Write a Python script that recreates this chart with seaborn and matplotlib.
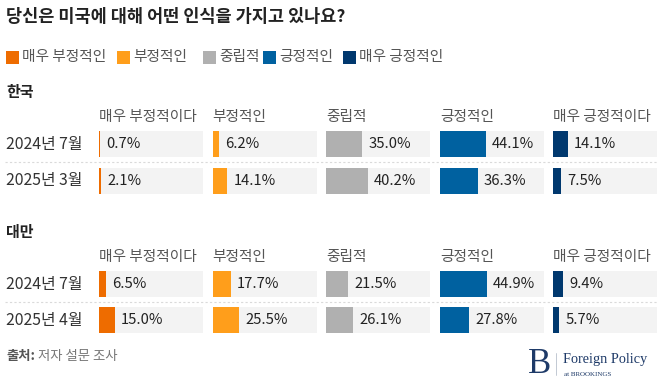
import matplotlib
matplotlib.use("Agg")
import matplotlib.pyplot as plt
import seaborn as sns
import pandas as pd
from matplotlib.patches import Rectangle
from matplotlib.lines import Line2D

# ---------------- data ----------------
title = "당신은 미국에 대해 어떤 인식을 가지고 있나요?"
legend_labels = ["매우 부정적인", "부정적인", "중립적", "긍정적인", "매우 긍정적인"]
column_labels = ["매우 부정적이다", "부정적인", "중립적", "긍정적인", "매우 긍정적이다"]
colors = ["#EE6C00", "#FF9E1B", "#B0B0B0", "#0061A0", "#00386E"]

panel_names = ["한국", "대만"]
korea_rows = ["2024년 7월", "2025년 3월"]
korea_very_neg = [0.7, 2.1]
korea_neg = [6.2, 14.1]
korea_neutral = [35.0, 40.2]
korea_pos = [44.1, 36.3]
korea_very_pos = [14.1, 7.5]

taiwan_rows = ["2024년 7월", "2025년 4월"]
taiwan_very_neg = [6.5, 15.0]
taiwan_neg = [17.7, 25.5]
taiwan_neutral = [21.5, 26.1]
taiwan_pos = [44.9, 27.8]
taiwan_very_pos = [9.4, 5.7]

source_label = "출처:"
source_text = "저자 설문 조사"

# ---------------- style ----------------
sns.set_theme(style="white")
plt.rcParams["font.family"] = ["Noto Sans CJK KR", "DejaVu Sans"]

W, H = 670, 386
fig = plt.figure(figsize=(W / 100, H / 100), dpi=100)
fig.patch.set_facecolor("white")


def fx(x):
    return x / W


def fy(y):
    return 1 - y / H


# title
fig.text(fx(6), fy(17), title, fontsize=12.6, fontweight="bold", color="#222222",
         ha="left", va="center")

# legend
leg_sq_x = [6, 117, 203, 263, 343]
for lx, lab, c in zip(leg_sq_x, legend_labels, colors):
    fig.patches.append(Rectangle((fx(lx), fy(63.5)), 13 / W, 13 / H, transform=fig.transFigure,
                                 facecolor=c, edgecolor="none"))
    fig.text(fx(lx + 16), fy(57), lab, fontsize=10.6, color="#555555", ha="left", va="center")

col_x = [99, 212.5, 326, 440, 553]
box_w = 104

panels = [
    dict(name=panel_names[0], rows=korea_rows,
         series=[korea_very_neg, korea_neg, korea_neutral, korea_pos, korea_very_pos],
         name_y=92, head_y=117, ax_top=125.5, ax_bot=199.5, sep_y=162.5),
    dict(name=panel_names[1], rows=taiwan_rows,
         series=[taiwan_very_neg, taiwan_neg, taiwan_neutral, taiwan_pos, taiwan_very_pos],
         name_y=232, head_y=257, ax_top=266, ax_bot=338, sep_y=302),
]

for p in panels:
    fig.text(fx(6), fy(p["name_y"]), p["name"], fontsize=10.8, fontweight="bold",
             color="#222222", ha="left", va="center")
    # separator
    fig.add_artist(Line2D([fx(5), fx(657)], [fy(p["sep_y"])] * 2, transform=fig.transFigure,
                          color="#DADADA", lw=0.8, linestyle=(0, (2, 2))))
    # row labels
    pitch = (p["ax_bot"] - p["ax_top"]) / 2
    for i, r in enumerate(p["rows"]):
        yc = p["ax_top"] + pitch * (i + 0.5)
        fig.text(fx(6.5), fy(yc), r, fontsize=11.4, color="#333333", ha="left", va="center")
    for j in range(5):
        fig.text(fx(col_x[j]), fy(p["head_y"]), column_labels[j], fontsize=10.6,
                 color="#555555", ha="left", va="center")
        ax = fig.add_axes([fx(col_x[j]), fy(p["ax_bot"]), box_w / W,
                           (p["ax_bot"] - p["ax_top"]) / H])
        df = pd.DataFrame({"row": p["rows"], "value": p["series"][j],
                           "full": [100.0] * len(p["rows"])})
        sns.barplot(data=df, x="full", y="row", orient="h", color="#F3F3F3",
                    width=0.71, ax=ax, saturation=1, linewidth=0)
        sns.barplot(data=df, x="value", y="row", orient="h", color=colors[j],
                    width=0.71, ax=ax, saturation=1, linewidth=0)
        for i, v in enumerate(p["series"][j]):
            ax.annotate(f"{v:.1f}%", xy=(v, i), xytext=(4.5, 0), textcoords="offset points",
                        fontsize=10.6, color="#222222", ha="left", va="center")
        ax.set_xlim(0, 100)
        ax.set_ylim(1.5, -0.5)
        ax.axis("off")

# footer
fig.text(fx(6), fy(356), source_label, fontsize=9.6, fontweight="bold", color="#555555",
         ha="left", va="center")
fig.text(fx(38), fy(356), source_text, fontsize=9.6, color="#777777", ha="left", va="center")

# logo
navy = "#1E3A68"
fig.text(fx(528), fy(364.5), "B", fontsize=25, family="Liberation Serif", color=navy,
         ha="left", va="center")
fig.add_artist(Line2D([fx(556), fx(556)], [fy(353), fy(375)], transform=fig.transFigure,
                      color="#B8C0CC", lw=0.6))
fig.text(fx(563), fy(360), "Foreign Policy", fontsize=10.3, family="Liberation Serif",
         color=navy, ha="left", va="center")
fig.text(fx(564), fy(374), "at BROOKINGS", fontsize=5, family="Liberation Serif",
         color=navy, ha="left", va="center")

fig.savefig("out.png", dpi=100)
